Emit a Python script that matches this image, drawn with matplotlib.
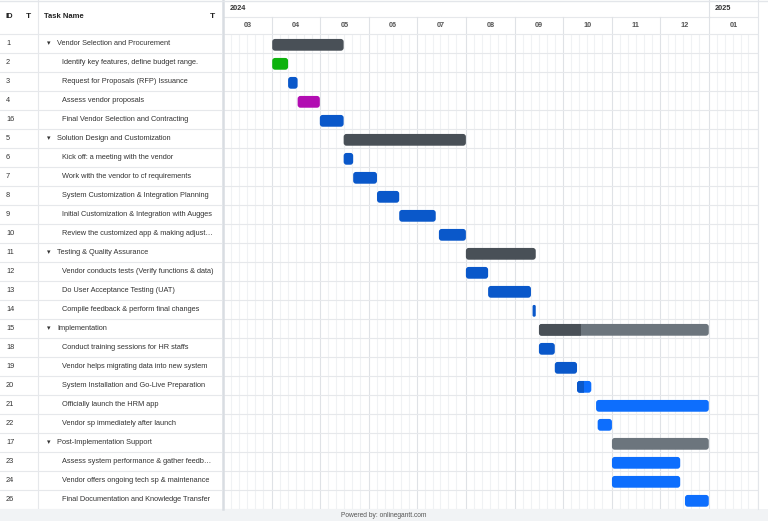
import datetime as dt
import matplotlib
matplotlib.use("Agg")
import matplotlib.pyplot as plt
import matplotlib.dates as mdates
from matplotlib.patches import FancyBboxPatch, Rectangle

plt.rcParams['font.family'] = ['Liberation Sans', 'DejaVu Sans']

# ---- data ----
ids = ['1', '2', '3', '4', '16', '5', '6', '7', '8', '9', '10', '11', '12', '13',
       '14', '15', '18', '19', '20', '21', '22', '17', '23', '24', '26']
names = ['Vendor Selection and Procurement',
         'Identify key features, define budget range.',
         'Request for Proposals (RFP) Issuance',
         'Assess vendor proposals',
         'Final Vendor Selection and Contracting',
         'Solution Design and Customization',
         'Kick off: a meeting with the vendor',
         'Work with the vendor to cf requirements',
         'System Customization & Integration Planning',
         'Initial Customization & Integration with Augges',
         'Review the customized app & making adjust\u2026',
         'Testing & Quality Assurance',
         'Vendor conducts tests (Verify functions & data)',
         'Do User Acceptance Testing (UAT)',
         'Compile feedback & perform final changes',
         'Implementation',
         'Conduct training sessions for HR staffs',
         'Vendor helps migrating data into new system',
         'System Installation and Go-Live Preparation',
         'Officially launch the HRM app',
         'Vendor sp immediately after launch',
         'Post-Implementation Support',
         'Assess system performance & gather feedb\u2026',
         'Vendor offers ongoing tech sp & maintenance',
         'Final Documentation and Knowledge Transfer']
is_group = [True, False, False, False, False, True, False, False, False, False, False,
            True, False, False, False, True, False, False, False, False, False,
            True, False, False, False]
starts = ['2024-04-01', '2024-04-01', '2024-04-11', '2024-04-17', '2024-05-01',
          '2024-05-16', '2024-05-16', '2024-05-22', '2024-06-06', '2024-06-20',
          '2024-07-15', '2024-08-01', '2024-08-01', '2024-08-15', '2024-09-12',
          '2024-09-16', '2024-09-16', '2024-09-26', '2024-10-10', '2024-10-22',
          '2024-10-23', '2024-11-01', '2024-11-01', '2024-11-01', '2024-12-17']
ends = ['2024-05-15', '2024-04-10', '2024-04-16', '2024-04-30', '2024-05-15',
        '2024-07-31', '2024-05-21', '2024-06-05', '2024-06-19', '2024-07-12',
        '2024-07-31', '2024-09-13', '2024-08-14', '2024-09-10', '2024-09-13',
        '2024-12-31', '2024-09-25', '2024-10-09', '2024-10-18', '2024-12-31',
        '2024-10-31', '2024-12-31', '2024-12-13', '2024-12-13', '2024-12-31']
bar_colors = ['#495057', '#0db20d', '#0a58ca', '#b20db2', '#0a58ca',
              '#495057', '#0a58ca', '#0a58ca', '#0a58ca', '#0a58ca',
              '#0a58ca', '#495057', '#0a58ca', '#0a58ca', '#0a58ca',
              '#6c757d', '#0a58ca', '#0a58ca', '#0d6efd', '#0d6efd',
              '#0d6efd', '#6c757d', '#0d6efd', '#0d6efd', '#0d6efd']
progress = [0, 0, 0, 0, 0, 0, 0, 0, 0, 0, 0, 0, 0, 0, 0,
            0.25, 0, 0, 0.5, 0, 0, 0, 0, 0, 0]
prog_colors = {'#6c757d': '#495057', '#0d6efd': '#0a58ca'}
month_labels = ['03', '04', '05', '06', '07', '08', '09', '10', '11', '12', '01']
years = ['2024', '2025']

W, H = 768, 521
n = len(ids)
ROW = 19
top = 34
body_h = n * ROW
bottom = H - top - body_h
split = 222
chart_r = 758

fig = plt.figure(figsize=(W / 100, H / 100), dpi=100)
fig.patch.set_facecolor('white')

def fx(px):
    return px / W

def fy(px):
    return px / H

ax_th = fig.add_axes([0, fy(H - top), fx(split), fy(top)])
ax_t = fig.add_axes([0, fy(bottom), fx(split), fy(body_h)])
ax_ch = fig.add_axes([fx(split + 1), fy(H - top), fx(chart_r - split - 1), fy(top)])
ax_c = fig.add_axes([fx(split + 1), fy(bottom), fx(chart_r - split - 1), fy(body_h)])
for a in (ax_th, ax_t, ax_ch, ax_c):
    a.set_axis_off()

d0 = mdates.date2num(dt.date(2024, 3, 1))
d1 = mdates.date2num(dt.date(2025, 2, 1))
month_starts = [dt.date(2024 + (m - 1) // 12, (m - 1) % 12 + 1, 1) for m in range(3, 15)]
mnum = [mdates.date2num(d) for d in month_starts]

grid_major = '#dfe2e6'
grid_minor = '#f0f2f4'
row_line = '#e6e8eb'
txt = '#333333'

# ---- chart body ----
ax_c.set_xlim(d0, d1)
ax_c.set_ylim(n, 0)
for d in month_starts[:-1]:
    for day in (6, 11, 16, 21, 26):
        ax_c.axvline(mdates.date2num(d.replace(day=day)), color=grid_minor, lw=0.8, zorder=0)
for m in mnum:
    ax_c.axvline(m, color=grid_major, lw=0.8, zorder=0)
for i in range(n + 1):
    ax_c.axhline(i, color=row_line, lw=0.8, zorder=0)

px_per_day = (chart_r - split - 1) / (d1 - d0)
asp = px_per_day / ROW
bh = 0.62
for i in range(n):
    x0 = mdates.date2num(dt.date.fromisoformat(starts[i]))
    x1 = mdates.date2num(dt.date.fromisoformat(ends[i])) + 1
    w = x1 - x0
    y = i + 0.57
    r = min(1.8, w / 2 * 0.9)
    p = FancyBboxPatch((x0, y - bh / 2), w, bh,
                       boxstyle="round,pad=0,rounding_size=%.3f" % r,
                       mutation_aspect=asp, fc=bar_colors[i], ec='none', zorder=3)
    ax_c.add_patch(p)
    if progress[i] > 0:
        pr = Rectangle((x0, y - bh / 2), w * progress[i], bh,
                       fc=prog_colors[bar_colors[i]], ec='none', zorder=4)
        ax_c.add_patch(pr)
        pr.set_clip_path(p)

# ---- chart header ----
ax_ch.set_xlim(d0, d1)
ax_ch.set_ylim(top, 0)
ax_ch.axhline(17, color=row_line, lw=0.8)
ax_ch.axhline(top - 0.3, color=grid_major, lw=0.8)
for m in mnum[:-1]:
    ax_ch.plot([m, m], [17, top], color=grid_major, lw=0.8)
ax_ch.plot([mnum[10], mnum[10]], [0, 17], color=grid_major, lw=0.8)
ax_ch.text(d0 + 4, 8.5, years[0], fontsize=5.3, fontweight='bold', color='#333', va='center')
ax_ch.text(mnum[10] + 4, 8.5, years[1], fontsize=5.3, fontweight='bold', color='#333', va='center')
for k, lab in enumerate(month_labels):
    ax_ch.text((mnum[k] + mnum[k + 1]) / 2, 25.5, lab, fontsize=5.3, fontweight='bold',
               color='#555', ha='center', va='center')

# ---- table header ----
ax_th.set_xlim(0, split)
ax_th.set_ylim(top, 0)
ax_th.axhline(top - 0.3, color=grid_major, lw=0.8)
ax_th.axvline(38, color=row_line, lw=0.8)
ax_th.text(5, 17, 'ID', fontsize=5.5, fontweight='bold', color='#222', va='center')
ax_th.text(28, 17, 'T', fontsize=6, fontweight='bold', color='#222', va='center', ha='center')
ax_th.text(44, 17, 'Task Name', fontsize=5.5, fontweight='bold', color='#222', va='center')
ax_th.text(212, 17, 'T', fontsize=6, fontweight='bold', color='#222', va='center', ha='center')

# ---- table body ----
ax_t.set_xlim(0, split)
ax_t.set_ylim(n, 0)
for i in range(n + 1):
    ax_t.axhline(i, color=row_line, lw=0.8)
ax_t.axvline(38, color=row_line, lw=0.8)
for i in range(n):
    y = i + 0.5
    ax_t.text(6, y, ids[i], fontsize=5.3, color=txt, va='center')
    if is_group[i]:
        ax_t.text(48.5, y, '\u25be', fontsize=5, color='#333', va='center', ha='center',
                  family=['DejaVu Sans'])
        ax_t.text(57, y, names[i], fontsize=5.3, color=txt, va='center')
    else:
        ax_t.text(62, y, names[i], fontsize=5.3, color=txt, va='center')

# ---- frame lines / footer ----
fig.add_artist(plt.Line2D([fx(split + 0.5), fx(split + 0.5)], [fy(bottom), 1],
                          color='#d9dde2', lw=1.8))
fig.add_artist(plt.Line2D([fx(chart_r), fx(chart_r)], [fy(bottom), 1],
                          color='#e3e6ea', lw=0.8))
fig.add_artist(plt.Line2D([0, 1], [1 - fy(0.5), 1 - fy(0.5)], color='#e3e6ea', lw=1))
fig.add_artist(Rectangle((0, 0), 1, fy(bottom), transform=fig.transFigure,
                         fc='#f1f3f5', ec='none'))
fig.text(0.5, fy(bottom / 2 - 0.5), 'Powered by: onlinegantt.com', fontsize=4.8,
         color='#555', ha='center', va='center')

fig.savefig('out.png', dpi=100)
